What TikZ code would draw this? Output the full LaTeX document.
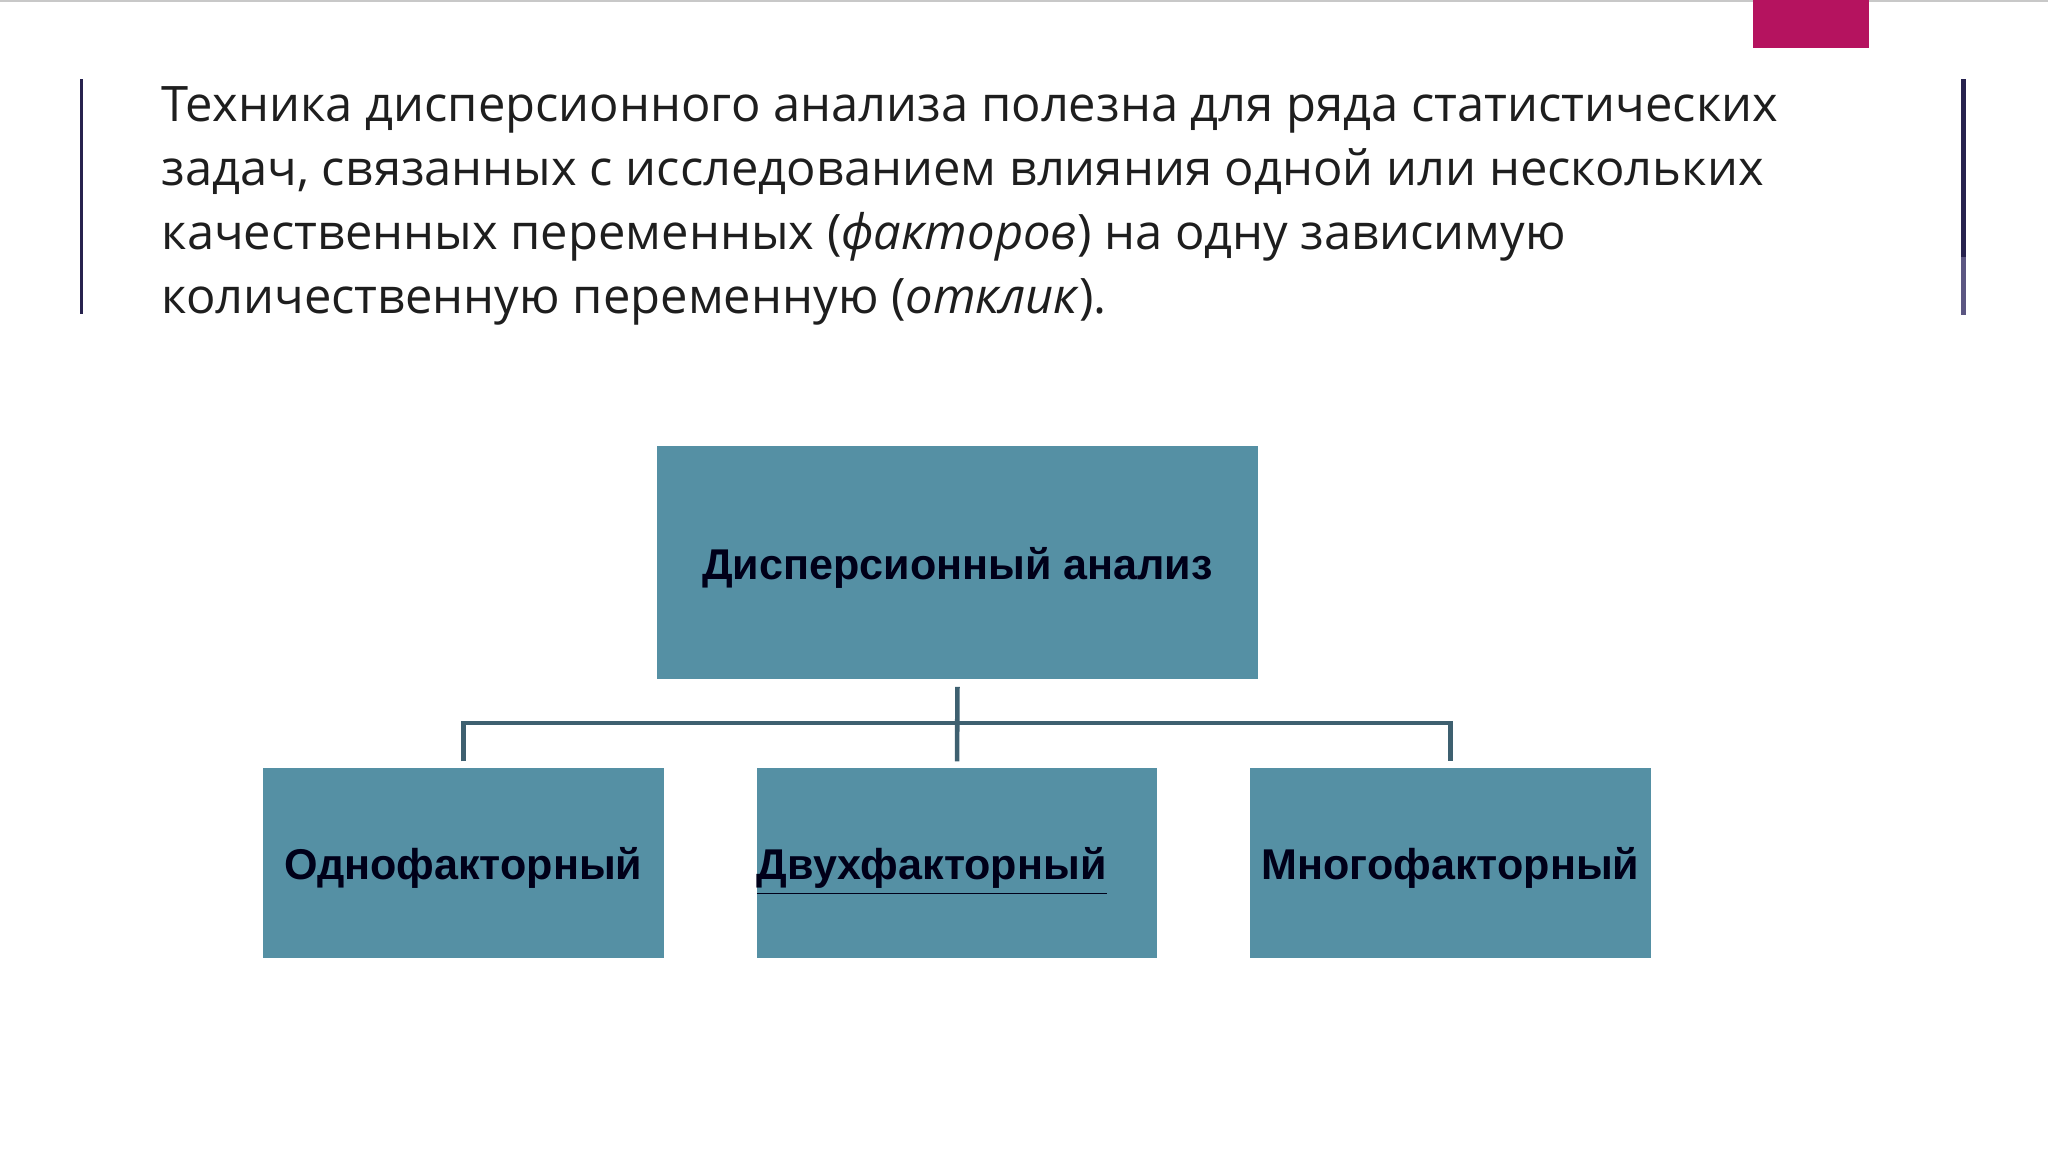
\documentclass[tikz,border=0pt]{standalone}
\usepackage{fontspec}
\setmainfont{Open Sans}
\newfontfamily\boxfont{Liberation Sans}
\usepackage{xcolor}
\usetikzlibrary{positioning,calc}
\definecolor{ttBox}{HTML}{5590A4}
\definecolor{ttLine}{HTML}{3E6070}
\definecolor{ttText}{HTML}{1E1E1E}
\definecolor{ttMag}{HTML}{B5135F}
\definecolor{ttNavy}{HTML}{27224E}
\definecolor{ttNavyL}{HTML}{5B5682}
\definecolor{ttGray}{HTML}{C8C8C8}

\begin{document}
\begin{tikzpicture}[x=0.01cm,y=-0.01cm,
  box/.style={fill=ttBox,inner sep=0pt,align=center,minimum width=4cm,minimum height=1.9cm,
    text height=1.15em,text depth=0.21em,
    font=\boxfont\bfseries\fontsize{12.25}{14}\selectfont,text=black!90!blue},
  link/.style={ttLine,line width=1.3pt},
  para/.style={anchor=north west,inner sep=0pt,align=left,text=ttText,
    font=\fontsize{13.9}{18.2}\selectfont}]
  \useasboundingbox (0,0) rectangle (2048,1152);
  % slide frame
  \draw[ttGray,line width=0.8pt] (0,1) -- (2048,1);
  \fill[ttMag] (1753,0) rectangle (1869,48);
  \fill[ttNavy] (80,79) rectangle (82.5,314);
  \fill[ttNavy] (1961,79) rectangle (1966,257);
  \fill[ttNavyL] (1961,257) rectangle (1966,315);
  % text
  \node[para] (intro) at (161,86) {Техника дисперсионного анализа полезна для ряда статистических\\
    задач, связанных с исследованием влияния одной или нескольких\\
    качественных переменных (\textit{факторов}) на одну зависимую\\
    количественную переменную (\textit{отклик}).};
  % diagram
  \node[box,minimum width=6cm,minimum height=2.33cm] (DA) at (957.5,562.5) {Дисперсионный анализ};
  \node[box] (F1) at (463.5,863) {Однофакторный};
  \node[box,text width=4cm,align=left] (F2) at (957,863) {\underline{Двухфакторный}};
  \node[box] (F3) at (1450.5,863) {Многофакторный};
  \coordinate (bus) at (957,723);
  \draw[link,shorten <=2pt,shorten >=1.7pt] (DA.south) -- (F2.north);
  \draw[link,shorten <=1.7pt,shorten >=1.7pt] (F1.north) -- (F1.north|-bus) -- (F3.north|-bus) -- (F3.north);
\end{tikzpicture}
\end{document}
